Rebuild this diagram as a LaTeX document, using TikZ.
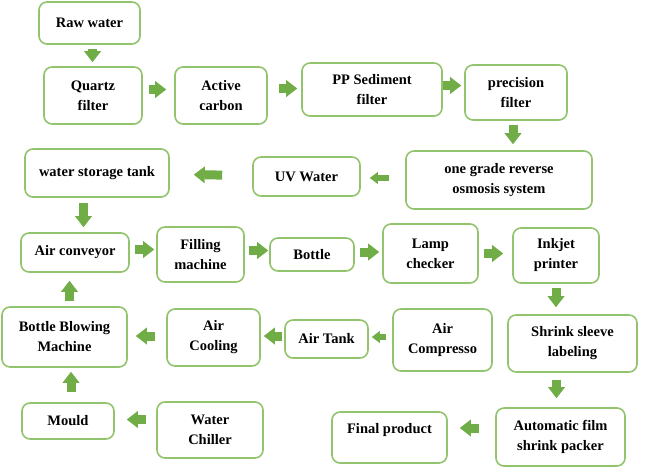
\documentclass[tikz,border=0pt]{standalone}
\usepackage{fontspec}
\setmainfont{Liberation Serif}
\usetikzlibrary{arrows.meta, positioning}
\definecolor{boxgreen}{RGB}{146,196,110}
\definecolor{arrowgreen}{RGB}{112,173,71}

\begin{document}
\begin{tikzpicture}[
    x=1pt, y=-1pt,
    stage/.style={rectangle, draw=boxgreen, line width=1.6pt, fill=white, rounded corners=8pt, align=center, inner sep=2pt, font=\bfseries\fontsize{14.5}{20}\selectfont},
    flow/.style={draw=arrowgreen, line width=9pt, -{Triangle[length=11pt, width=17pt, line width=0pt]}},
    smallflow/.style={draw=arrowgreen, line width=6pt, -{Triangle[length=8pt, width=12pt, line width=0pt]}}
]
    \useasboundingbox (0,0) rectangle (655,472);

    % Water treatment
    \node[stage, minimum width=101pt, minimum height=42pt] (raw) at (89.5,23) {Raw water};
    \node[stage, minimum width=98pt, minimum height=57pt] (quartz) at (93,95.5) {Quartz\\filter};
    \node[stage, minimum width=92pt, minimum height=57pt] (carbon) at (221,95.5) {Active\\carbon};
    \node[stage, minimum width=140pt, minimum height=53pt] (sediment) at (372,89.5) {PP Sediment\\filter};
    \node[stage, minimum width=102pt, minimum height=55pt] (precision) at (516,92.5) {precision\\filter};
    \node[stage, minimum width=186pt, minimum height=58pt] (osmosis) at (499,180) {one grade reverse\\osmosis system};
    \node[stage, minimum width=107pt, minimum height=39pt] (uv) at (306.5,176.5) {UV Water};
    \node[stage, minimum width=144pt, minimum height=48pt] (storage) at (97,173) {water storage tank};

    % Filling line
    \node[stage, minimum width=108pt, minimum height=39pt] (conveyor) at (75,252.5) {Air conveyor};
    \node[stage, minimum width=87pt, minimum height=55pt] (filling) at (200.5,254.5) {Filling\\machine};
    \node[stage, minimum width=84pt, minimum height=33pt] (bottle) at (312,254.5) {Bottle};
    \node[stage, minimum width=95pt, minimum height=59pt] (lamp) at (430.5,253.5) {Lamp\\checker};
    \node[stage, minimum width=86pt, minimum height=55pt] (inkjet) at (556,255.5) {Inkjet\\printer};
    \node[stage, minimum width=129pt, minimum height=57pt] (sleeve) at (572.5,343.5) {Shrink sleeve\\labeling};
    \node[stage, minimum width=129pt, minimum height=58pt] (packer) at (560.5,437) {Automatic film\\shrink packer};
    \node[stage, minimum width=115pt, minimum height=51pt, text depth=18pt] (final) at (389.5,437.5) {Final product};

    % Bottle blowing
    \node[stage, minimum width=99pt, minimum height=62pt] (compressor) at (442.5,340) {Air\\Compresso};
    \node[stage, minimum width=83pt, minimum height=38pt] (tank) at (326.5,339) {Air Tank};
    \node[stage, minimum width=93pt, minimum height=57pt] (cooling) at (213.5,337.5) {Air\\Cooling};
    \node[stage, minimum width=125pt, minimum height=60pt] (blowing) at (64.5,337) {Bottle Blowing\\Machine};
    \node[stage, minimum width=92pt, minimum height=36pt] (mould) at (68,421) {Mould};
    \node[stage, minimum width=106pt, minimum height=56pt] (chiller) at (210,430) {Water\\Chiller};

    % Arrows
    \draw[flow, shorten <=4pt, shorten >=4pt] ([xshift=3pt]raw.south) -- ([xshift=3pt]raw.south |- quartz.north);
    \draw[flow, shorten <=6pt, shorten >=8pt] ([yshift=6pt]quartz.east) -- ([yshift=6pt]quartz.east -| carbon.west);
    \draw[flow, shorten <=11pt, shorten >=4pt] ([yshift=7pt]carbon.east) -- ([yshift=7pt]carbon.east -| sediment.west);
    \draw[flow, shorten >=3pt] ([yshift=4pt]sediment.east) -- ([yshift=4pt]sediment.east -| precision.west);
    \draw[flow, shorten <=4pt, shorten >=6pt] ([xshift=-3pt]precision.south) -- ([xshift=-3pt]precision.south |- osmosis.north);
    \draw[smallflow, shorten <=16pt, shorten >=9pt] ([yshift=2pt]osmosis.west) -- ([yshift=2pt]osmosis.west -| uv.east);
    \draw[flow, shorten <=30pt, shorten >=24pt] (uv) -- (storage);
    \draw[flow, shorten <=5pt, shorten >=5pt] ([xshift=-13.5pt]storage.south) -- ([xshift=-13.5pt]storage.south |- conveyor.north);
    \draw[flow, shorten <=5pt, shorten >=2pt] ([yshift=3pt]conveyor.east) -- ([yshift=3pt]conveyor.east -| filling.west);
    \draw[flow, shorten <=4pt, shorten >=1pt] ([yshift=4pt]filling.east) -- ([yshift=4pt]filling.east -| bottle.west);
    \draw[flow, shorten <=5pt, shorten >=3pt] ([yshift=2.5pt]bottle.east) -- ([yshift=2.5pt]bottle.east -| lamp.west);
    \draw[flow, shorten <=5pt, shorten >=9pt] (lamp.east) -- (lamp.east -| inkjet.west);
    \draw[flow, shorten <=4pt, shorten >=7pt] (inkjet.south) -- (inkjet.south |- sleeve.north);
    \draw[flow, shorten <=7pt, shorten >=9pt] ([xshift=-16pt]sleeve.south) -- ([xshift=-16pt]sleeve.south |- packer.north);
    \draw[flow, shorten <=16pt, shorten >=12pt] ([yshift=9pt]packer.west) -- ([yshift=9pt]packer.west -| final.east);
    \draw[smallflow, shorten <=6pt, shorten >=3pt] ([yshift=3pt]compressor.west) -- ([yshift=3pt]compressor.west -| tank.east);
    \draw[flow, shorten <=2pt, shorten >=3pt] ([yshift=3pt]tank.west) -- ([yshift=3pt]tank.west -| cooling.east);
    \draw[flow, shorten <=11pt, shorten >=8pt] ([yshift=1.5pt]cooling.west) -- ([yshift=1.5pt]cooling.west -| blowing.east);
    \draw[flow, shorten <=5pt, shorten >=8pt] ([xshift=5pt]blowing.north) -- ([xshift=5pt]blowing.north |- conveyor.south);
    \draw[flow, shorten <=10pt, shorten >=4pt] ([xshift=3pt]mould.north) -- ([xshift=3pt]mould.north |- blowing.south);
    \draw[flow, shorten <=10pt, shorten >=12pt] ([yshift=10.5pt]chiller.west) -- ([yshift=10.5pt]chiller.west -| mould.east);
\end{tikzpicture}
\end{document}
